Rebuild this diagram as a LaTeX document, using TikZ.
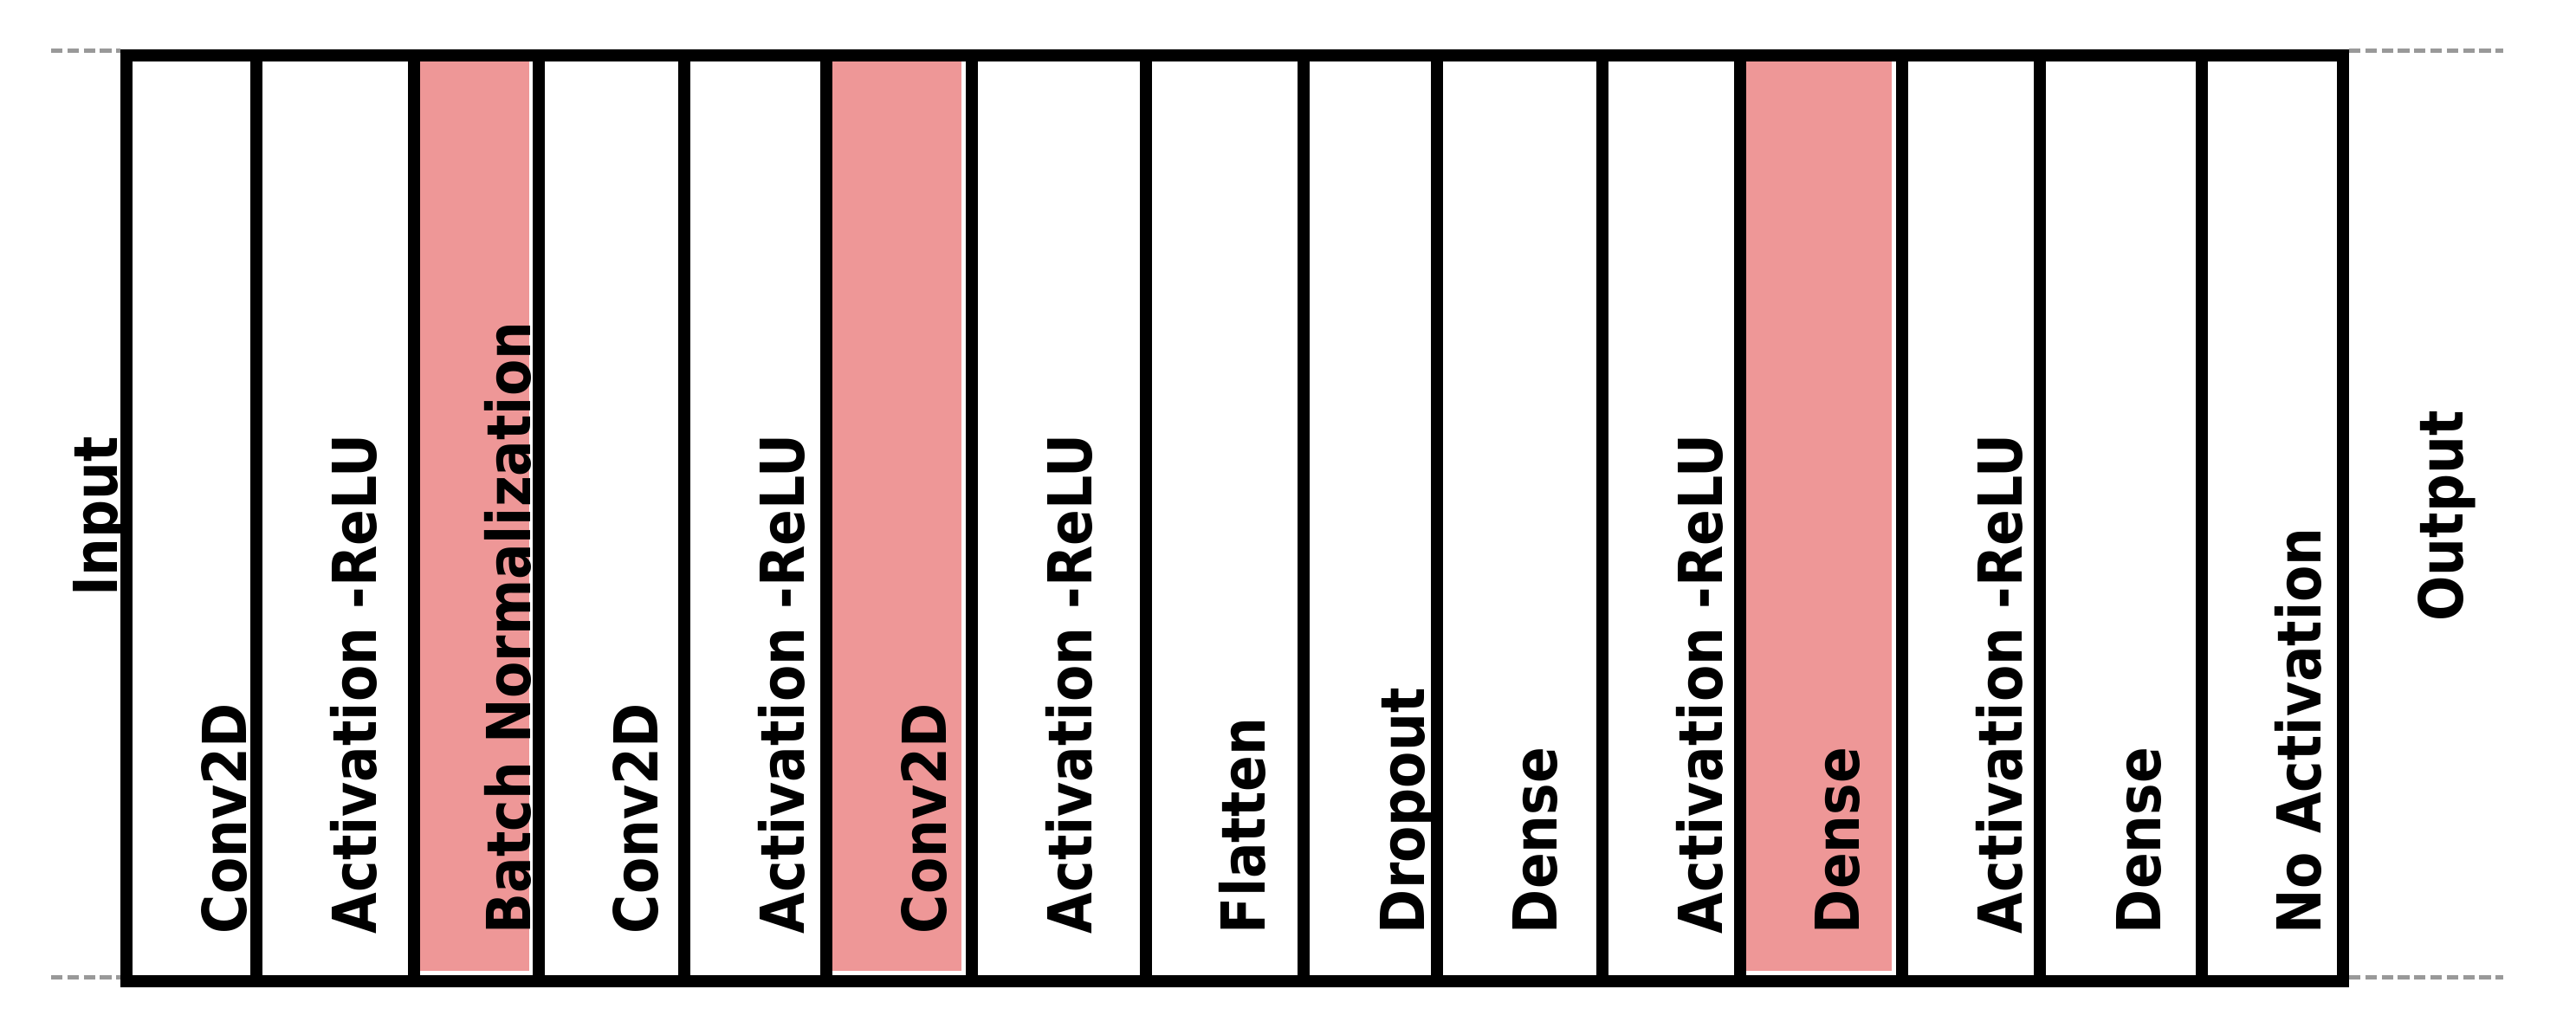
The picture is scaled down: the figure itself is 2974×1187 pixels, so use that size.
\documentclass[tikz,border=0pt]{standalone}
\usepackage{fontspec}
\newfontfamily\labfont{DejaVu Sans}[FakeStretch=0.88, BoldFont={DejaVu Sans Bold}, BoldFeatures={FakeStretch=0.88}]
\definecolor{layerpink}{RGB}{238,151,151}
\definecolor{guidegrey}{RGB}{153,153,153}
\begin{document}
\begin{tikzpicture}[x=0.25pt,y=-0.25pt,
  guide/.style={draw=guidegrey, line width=1.25pt, dash pattern=on 3.3pt off 1.4pt},
  frameline/.style={draw=black, line width=3.5pt},
  pinkfill/.style={fill=layerpink, draw=none},
  lab/.style={rotate=90, inner sep=0pt, outer sep=0pt, font=\labfont\bfseries\fontsize{17.5pt}{20pt}\selectfont},
  laybl/.style={lab, anchor=base west},
  endlab/.style={lab, anchor=base}]
\useasboundingbox (0,0) rectangle (2974,1187);
% guide lines
\coordinate (gTL) at (59,59);
\coordinate (gTLe) at (139,59);
\coordinate (gBL) at (59,1128);
\coordinate (gBLe) at (139,1128);
\coordinate (gTR) at (2712,59);
\coordinate (gTRe) at (2890,59);
\coordinate (gBR) at (2712,1128);
\coordinate (gBRe) at (2890,1128);
\draw[guide] (gTL) -- (gTLe);
\draw[guide] (gBL) -- (gBLe);
\draw[guide] (gTR) -- (gTRe);
\draw[guide] (gBR) -- (gBRe);
% pink layers
\fill[pinkfill] (485,71) rectangle (611,1121);
\fill[pinkfill] (961,71) rectangle (1110,1121);
\fill[pinkfill] (2016,71) rectangle (2184,1121);
% frame
\draw[frameline] (146,64) rectangle (2705,1133);
\foreach \xx in {295.5,478,622,790,954,1122,1322.5,1505,1659,1850,2009,2196,2355,2542}
  \draw[frameline] (\xx,64) -- (\xx,1133);
% labels
\node[endlab] (input) at (135,596) {Input};
\node[endlab] (output) at (2843,596) {Output};
\node[laybl] (l1) at (284,1078) {Conv2D};
\node[laybl] (l2) at (434,1078) {Activation -ReLU};
\node[laybl] (l3) at (612,1078) {Batch Normalization};
\node[laybl] (l4) at (759,1078) {Conv2D};
\node[laybl] (l5) at (928,1078) {Activation -ReLU};
\node[laybl] (l6) at (1092,1078) {Conv2D};
\node[laybl] (l7) at (1260,1078) {Activation -ReLU};
\node[laybl] (l8) at (1460,1078) {Flatten};
\node[laybl] (l9) at (1644,1078) {Dropout};
\node[laybl] (l10) at (1797,1078) {Dense};
\node[laybl] (l11) at (1988,1078) {Activation -ReLU};
\node[laybl] (l12) at (2146,1078) {Dense};
\node[laybl] (l13) at (2334,1078) {Activation -ReLU};
\node[laybl] (l14) at (2494,1078) {Dense};
\node[laybl] (l15) at (2679,1078) {No Activation};
\end{tikzpicture}
\end{document}
